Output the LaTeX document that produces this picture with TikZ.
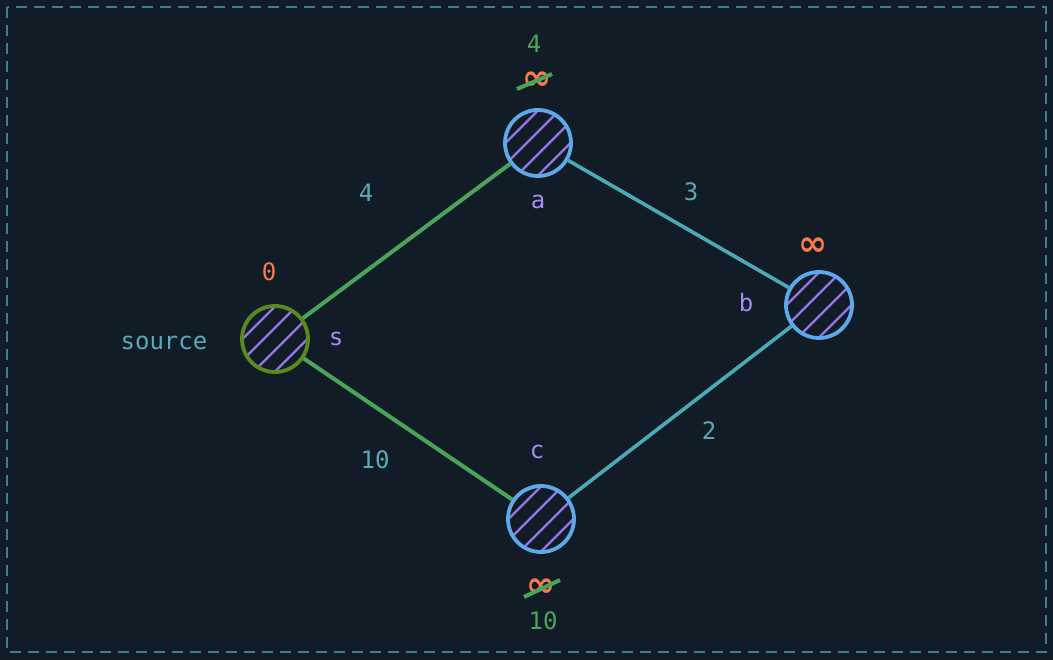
\documentclass[tikz,border=0pt]{standalone}
\usepackage{fontspec}
\setmonofont{DejaVu Sans Mono}
\newfontfamily\inffont{DejaVu Sans}
\definecolor{bgc}{HTML}{111C26}
\definecolor{framec}{HTML}{3E7F8C}
\definecolor{greene}{HTML}{4CA35A}
\definecolor{olive}{HTML}{5A8A1E}
\definecolor{bluec}{HTML}{5DA9E9}
\definecolor{hatchc}{HTML}{9775E8}
\definecolor{teale}{HTML}{4BA9B8}
\definecolor{orangec}{HTML}{F97A4A}
\definecolor{purplec}{HTML}{A98CF5}
\definecolor{weightc}{HTML}{5AAABA}
\tikzset{
  txt/.style={font=\ttfamily\fontsize{24}{24}\selectfont, inner sep=0pt, anchor=center},
  inf/.style={font=\inffont\bfseries\fontsize{35}{35}\selectfont, inner sep=0pt, anchor=center, text=orangec},
  hatched/.style={path picture={
    \foreach \d in {-23,-8,8,23}{
      \draw[hatchc, line width=2.3pt] ([shift={({0.7071*\d*1pt-28.3pt},{-0.7071*\d*1pt-28.3pt})}]path picture bounding box.center) -- ++(56.6pt,56.6pt);
    }}},
  vert/.style={circle, draw=bluec, line width=3.8pt, minimum size=66pt, inner sep=0pt, hatched},
  srcvert/.style={vert, draw=olive},
  gedge/.style={draw=greene, line width=4pt},
  tedge/.style={draw=teale, line width=3.6pt},
  strike/.style={draw=greene, line width=4pt},
}
\begin{document}
\begin{tikzpicture}[x=1pt,y=-1pt]
\fill[bgc] (0,0) rectangle (1053,660);
\useasboundingbox (0,0) rectangle (1053,660);
\draw[framec, line width=1.8pt, dash pattern=on 11pt off 7pt] (7,7) rectangle (1046,652);

% vertices
\node[srcvert] (s) at (275,339) {};
\node[vert] (a) at (538,143) {};
\node[vert] (b) at (819,305) {};
\node[vert] (c) at (541,519) {};

% edges
\draw[gedge] (s) -- (a);
\draw[gedge] (s) -- (c);
\draw[tedge] (a) -- (b);
\draw[tedge] (b) -- (c);

% weights
\node[txt, text=weightc] (w1) at (366,193) {4};
\node[txt, text=weightc] (w2) at (691,192) {3};
\node[txt, text=weightc] (w3) at (375,460) {10};
\node[txt, text=weightc] (w4) at (709,431) {2};

% names
\node[txt, text=weightc] (src) at (164,343) {source};
\node[txt, text=purplec] (ns) at (336,339) {s};
\node[txt, text=purplec] (na) at (538,202) {a};
\node[txt, text=purplec] (nb) at (746,303) {b};
\node[txt, text=purplec] (nc) at (537,452) {c};

% distances
\node[txt, text=orangec] (ds) at (269,272) {0};
\node[inf] (db) at (813,247) {∞};
\node[inf] (da) at (537,81) {∞};
\node[inf] (dc) at (541,588) {∞};
\coordinate (sa1) at (517,89);
\coordinate (sa2) at (552,74);
\draw[strike] (sa1) -- (sa2);
\coordinate (sc1) at (524,597);
\coordinate (sc2) at (560,580);
\draw[strike] (sc1) -- (sc2);
\node[txt, text=greene] (na4) at (534,44) {4};
\node[txt, text=greene] (nc10) at (543,621) {10};
\end{tikzpicture}
\end{document}
